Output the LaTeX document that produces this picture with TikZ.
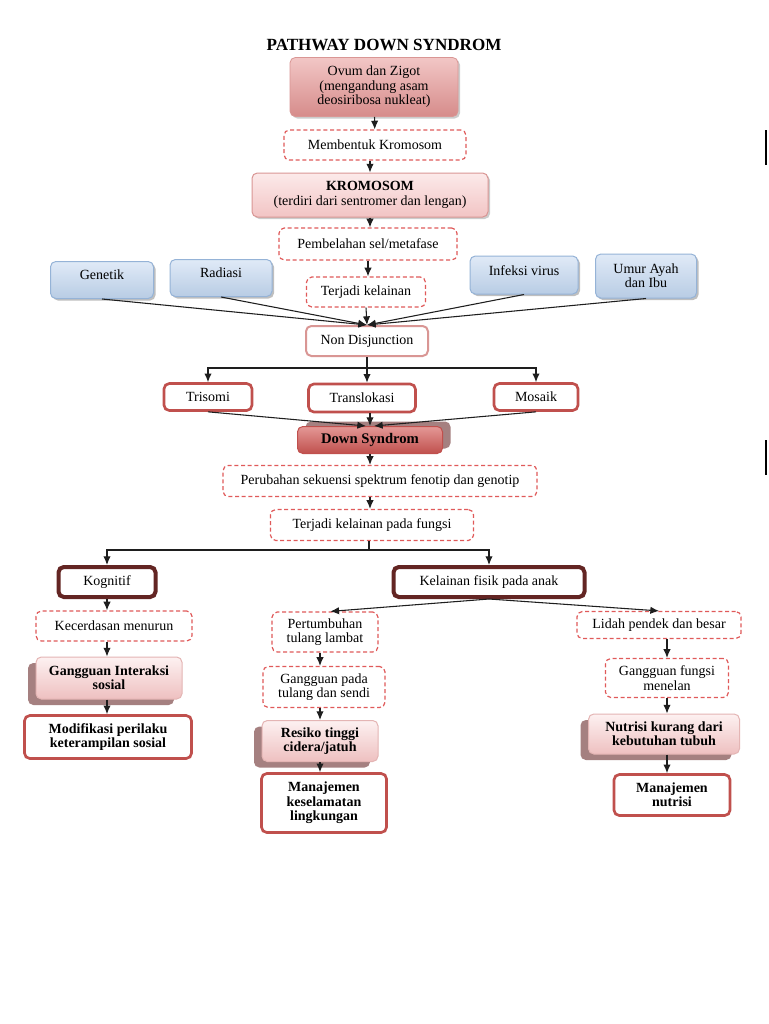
\documentclass[tikz,border=0pt]{standalone}
\usepackage{fontspec}
\setmainfont{Liberation Serif}
\usetikzlibrary{arrows,arrows.meta,shadows}
\definecolor{dashred}{RGB}{224,90,90}
\definecolor{boxred}{RGB}{192,80,77}
\definecolor{maroon}{RGB}{99,37,35}
\definecolor{pinkline}{RGB}{217,150,148}
\definecolor{bluetop}{RGB}{224,234,247}
\definecolor{bluebot}{RGB}{184,204,228}
\definecolor{blueline}{RGB}{149,179,215}
\definecolor{ovumtop}{RGB}{242,198,197}
\definecolor{ovumbot}{RGB}{214,140,139}
\definecolor{kromtop}{RGB}{252,234,234}
\definecolor{krombot}{RGB}{242,196,196}
\definecolor{dstop}{RGB}{228,152,150}
\definecolor{dsbot}{RGB}{192,80,77}
\definecolor{pinktop}{RGB}{253,241,241}
\definecolor{pinkbot}{RGB}{238,192,192}
\definecolor{shadowpink}{RGB}{165,128,128}
\definecolor{linecol}{RGB}{30,30,30}
\tikzset{every shadow/.style={fill=shadowpink,opacity=1}}
\tikzset{
  base/.style={rounded corners=4pt,align=center,inner sep=2pt,font=\fontsize{10.5}{10.8}\selectfont},
  dashbox/.style={base,draw=dashred,line width=0.9pt,dash pattern=on 3pt off 2pt},
  redbox/.style={base,draw=boxred,line width=2pt,fill=white},
  redbold/.style={redbox,font=\fontsize{10.5}{10.8}\selectfont\bfseries},
  maroonbox/.style={base,draw=maroon,line width=3pt,fill=white},
  pinkedge/.style={base,draw=pinkline,line width=1.5pt,fill=white},
  bluebox/.style={base,draw=blueline,line width=0.75pt,top color=bluetop,bottom color=bluebot,
    drop shadow={shadow xshift=1.5pt,shadow yshift=-1.5pt,fill=black,opacity=0.25}},
  ovumbox/.style={base,draw=pinkline,line width=0.6pt,top color=ovumtop,bottom color=ovumbot,
    drop shadow={shadow xshift=1.5pt,shadow yshift=-1.5pt,fill=black,opacity=0.2}},
  krombox/.style={base,draw=pinkline,line width=0.75pt,top color=kromtop,bottom color=krombot,
    drop shadow={shadow xshift=1.5pt,shadow yshift=-1.5pt,fill=black,opacity=0.2}},
  dsbox/.style={base,draw=boxred,line width=0.75pt,top color=dstop,bottom color=dsbot,
    font=\fontsize{11}{12}\selectfont\bfseries,drop shadow={shadow xshift=6pt,shadow yshift=3.75pt}},
  pinkbox/.style={base,draw=pinkline!70!white,line width=0.75pt,top color=pinktop,bottom color=pinkbot,
    font=\fontsize{10.5}{10.8}\selectfont\bfseries,drop shadow={shadow xshift=-6pt,shadow yshift=-4.5pt}},
}

\begin{document}
\begin{tikzpicture}[x=0.75pt,y=-0.75pt,>={Latex[length=6.5pt,width=5.5pt]},
  arr/.style={->,line width=0.8pt,draw=linecol},
  ln/.style={line width=0.8pt,draw=linecol}]
\fill[white] (0,0) rectangle (768,1024);
% \draw[help lines,step=50] (0,0) grid (768,1024);
\node (title) at (384,45) {\fontsize{12.8}{14}\selectfont\bfseries PATHWAY DOWN SYNDROM};
\node (ovum) [ovumbox,minimum width=126pt,minimum height=44.25pt] at (374,87) {Ovum dan Zigot\\(mengandung asam\\deosiribosa nukleat)};
\node (memb) [dashbox,minimum width=136.5pt,minimum height=22.5pt] at (375,145) {Membentuk Kromosom};
\node (krom) [krombox,minimum width=177pt,minimum height=33pt] at (370,195) {\textbf{KROMOSOM}\\(terdiri dari sentromer dan lengan)};
\node (pemb) [dashbox,minimum width=133.5pt,minimum height=24pt] at (368,244) {Pembelahan sel/metafase};
\node (terj) [dashbox,minimum width=89.25pt,minimum height=22.5pt] at (366,292) {Terjadi kelainan};
\node (nondis) [pinkedge,minimum width=91.5pt,minimum height=22.5pt] at (367,341) {Non Disjunction};
%
\node (gen) [bluebox,minimum width=77.25pt,minimum height=27.75pt,text depth=8pt] at (102,280) {Genetik};
\node (rad) [bluebox,minimum width=76.5pt,minimum height=27.75pt,text depth=8pt] at (221,278) {Radiasi};
\node (inf) [bluebox,minimum width=81pt,minimum height=28.5pt,text depth=6pt] at (524,275) {Infeksi virus};
\node (umur) [bluebox,minimum width=75.75pt,minimum height=33pt] at (646,276) {Umur Ayah\\dan Ibu};
%
\node (tri) [redbox,minimum width=66pt,minimum height=20.25pt] at (208,397) {Trisomi};
\node (trans) [redbox,minimum width=80.25pt,minimum height=21pt] at (362,398) {Translokasi};
\node (mos) [redbox,minimum width=63pt,minimum height=20.25pt] at (536,397) {Mosaik};
\node (ds) [dsbox,minimum width=108.75pt,minimum height=20.25pt] at (370,440) {Down Syndrom};
\node (perub) [dashbox,minimum width=235.5pt,minimum height=23.25pt] at (380,481) {Perubahan sekuensi spektrum fenotip dan genotip};
\node (tkf) [dashbox,minimum width=152.25pt,minimum height=23.25pt] at (372,525) {Terjadi kelainan pada fungsi};
%
\node (kog) [maroonbox,minimum width=72.75pt,minimum height=22.5pt] at (107,582) {Kognitif};
\node (fis) [maroonbox,minimum width=143.25pt,minimum height=22.5pt] at (489,582) {Kelainan fisik pada anak};
\node (kec) [dashbox,minimum width=117pt,minimum height=22.5pt] at (114,626) {Kecerdasan menurun};
\node (gis) [pinkbox,minimum width=109.5pt,minimum height=31.5pt] at (109,678) {Gangguan Interaksi\\sosial};
\node (mod) [redbold,minimum width=125.25pt,minimum height=32.25pt] at (108,737) {Modifikasi perilaku\\keterampilan sosial};
%
\node (pert) [dashbox,minimum width=79.5pt,minimum height=30pt] at (325,632) {Pertumbuhan\\tulang lambat};
\node (gts) [dashbox,minimum width=91.5pt,minimum height=30.75pt] at (324,687) {Gangguan pada\\tulang dan sendi};
\node (res) [pinkbox,minimum width=87pt,minimum height=30.75pt] at (320,741) {Resiko tinggi\\cidera/jatuh};
\node (mkl) [redbold,minimum width=93.75pt,minimum height=44.25pt] at (324,803) {Manajemen\\keselamatan\\lingkungan};
%
\node (lid) [dashbox,minimum width=123pt,minimum height=20.25pt] at (659,625) {Lidah pendek dan besar};
\node (gfm) [dashbox,minimum width=92.25pt,minimum height=29.25pt] at (667,678) {Gangguan fungsi\\menelan};
\node (nut) [pinkbox,minimum width=113.25pt,minimum height=30pt] at (664,734) {Nutrisi kurang dari\\kebutuhan tubuh};
\node (mnu) [redbold,minimum width=87pt,minimum height=30.75pt] at (672,795) {Manajemen\\nutrisi};
%
\coordinate (sp1) at (367,368);
\coordinate (sp2) at (369,550);
\draw[arr] (ovum) -- (memb);
\draw[arr] (memb.south -| krom) -- (krom.north);
\draw[arr] (krom.south) -- (krom.south |- pemb.north);
\draw[arr] (pemb.south) -- (pemb.south |- terj.north);
\draw[arr] (terj.south) -- (nondis.north);
\draw[arr] (gen.south) -- (nondis.north);
\draw[arr] (rad.south) -- (nondis.north);
\draw[arr] (inf.south) -- (nondis.north);
\draw[arr] (umur.south) -- (nondis.north);
\draw[ln] (nondis.south) -- (sp1);
\draw[arr] (sp1) -| (tri.north);
\draw[arr] (sp1) -| (mos.north);
\draw[arr] (sp1) -- (sp1 |- trans.north);
\draw[arr] (tri.south) -- ([xshift=-3pt]ds.north);
\draw[arr] (mos.south) -- ([xshift=3pt]ds.north);
\draw[arr] (ds.north |- trans.south) -- (ds.north);
\draw[arr] (ds.south) -- (ds.south |- perub.north);
\draw[arr] (perub.south -| ds) -- (tkf.north -| ds);
\draw[ln] (tkf.south -| sp2) -- (sp2);
\draw[arr] (sp2) -| (kog.north);
\draw[arr] (sp2) -| (fis.north);
\draw[arr] (kog.south) -- (kog.south |- kec.north);
\draw[arr] (kec.south -| kog) -- (gis.north -| kog);
\draw[arr] (gis.south -| kog) -- (mod.north -| kog);
\draw[arr] (fis.south) -- ([xshift=4pt]pert.north);
\draw[arr] (fis.south) -- (lid.north);
\draw[arr] (pert.south -| res) -- (gts.north -| res);
\draw[arr] (gts.south -| res) -- (res.north);
\draw[arr] (res.south) -- (res.south |- mkl.north);
\draw[arr] (gfm.north |- lid.south) -- (gfm.north);
\draw[arr] (gfm.south) -- (gfm.south |- nut.north);
\draw[arr] (nut.south -| gfm) -- (mnu.north -| gfm);
% marks at the right edge
\draw[line width=1.5pt] (766,130) -- (766,165);
\draw[line width=1.5pt] (766,440) -- (766,475);
\end{tikzpicture}
\end{document}
